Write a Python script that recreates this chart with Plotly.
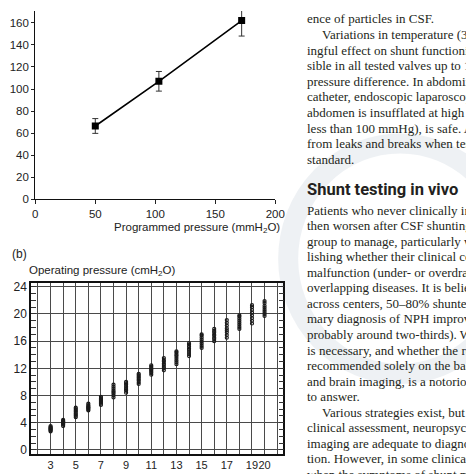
import plotly.graph_objects as go

W, H = 474, 474

# (a) programmed vs measured pressure, mean +/- sd
programmed = [50, 103, 172]
measured = [66.5, 107, 162]
measured_sd = [6.7, 8.9, 14]
a_xticks = [0, 50, 100, 150, 200]
a_yticks = [0, 20, 40, 60, 80, 100, 120, 140, 160]

# (b) operating pressure for each valve setting
settings = [3, 4, 5, 6, 7, 8, 9, 10, 11, 12, 13, 14, 15, 16, 17, 18, 19, 20]
readings = [
    [2.7, 2.85, 2.95, 3.05, 3.15, 3.25, 3.35, 3.5],
    [3.5, 3.7, 3.85, 3.95, 4.05, 4.15, 4.25, 4.4],
    [4.8, 5.0, 5.2, 5.4, 5.6, 5.8, 6.0, 6.2],
    [5.8, 5.95, 6.1, 6.2, 6.3, 6.45, 6.6, 6.8],
    [6.6, 6.8, 7.0, 7.15, 7.3, 7.45, 7.6, 7.8],
    [7.7, 8.0, 8.3, 8.5, 8.7, 9.0, 9.3, 9.6],
    [8.4, 8.7, 8.9, 9.1, 9.35, 9.6, 9.8, 10.0],
    [9.7, 9.95, 10.2, 10.4, 10.6, 10.8, 11.0, 11.2],
    [11.05, 11.3, 11.5, 11.7, 11.85, 12.05, 12.25, 12.45],
    [11.7, 12.0, 12.2, 12.5, 12.7, 13.0, 13.2, 13.5],
    [12.6, 12.9, 13.2, 13.5, 13.8, 14.0, 14.3, 14.5],
    [13.8, 14.1, 14.4, 14.7, 14.9, 15.2, 15.5, 15.7],
    [15.0, 15.3, 15.6, 15.9, 16.2, 16.5, 16.8, 17.0],
    [16.0, 16.3, 16.5, 16.8, 17.0, 17.3, 17.5, 17.8],
    [16.5, 16.9, 17.3, 17.6, 17.9, 18.3, 18.7, 19.1],
    [17.8, 18.1, 18.4, 18.7, 19.0, 19.3, 19.6, 19.8],
    [18.6, 19.0, 19.4, 19.8, 20.2, 20.6, 21.0, 21.3],
    [19.7, 20.0, 20.3, 20.6, 20.9, 21.2, 21.6, 21.9],
]
b_xticks = [3, 5, 7, 9, 11, 13, 15, 17, 19, 20]
b_yticks = [0, 4, 8, 12, 16, 20, 24]

# running text of the page, cropped at the right edge
para1 = [
    "ence of particles in CSF.",
    "Variations in temperature (30–40 °C)",
    "ingful effect on shunt functioning",
    "sible in all tested valves up to 10",
    "pressure difference. In abdominal",
    "catheter, endoscopic laparoscopic",
    "abdomen is insufflated at high pres",
    "less than 100 mmHg), is safe. Als",
    "from leaks and breaks when testi",
    "standard.",
]
heading = "Shunt testing in vivo"
para2 = [
    "Patients who never clinically impro",
    "then worsen after CSF shunting, a",
    "group to manage, particularly wh",
    "lishing whether their clinical cond",
    "malfunction (under- or overdrain",
    "overlapping diseases. It is believed",
    "across centers, 50–80% shunted p",
    "mary diagnosis of NPH improve af",
    "probably around two-thirds). Whe",
    "is necessary, and whether the repl",
    "recommended solely on the basis o",
    "and brain imaging, is a notorious",
    "to answer.",
    "Various strategies exist, but in",
    "clinical assessment, neuropsycho",
    "imaging are adequate to diagnose",
    "tion. However, in some clinical si",
    "when the symptoms of shunt malfu",
]
indented = {"Variations in temperature (30–40 °C)", "Various strategies exist, but in"}


def px_y(p):
    return 1 - p / H


def px_x(p):
    return p / W


fig = go.Figure()

fig.add_trace(go.Scatter(
    x=programmed, y=measured, mode="lines+markers",
    line=dict(color="black", width=1.6),
    marker=dict(symbol="square", size=7, color="black"),
    error_y=dict(type="data", array=measured_sd, color="#333", thickness=1, width=3),
    xaxis="x", yaxis="y", showlegend=False,
))

bx, by = [], []
for s, vals in zip(settings, readings):
    bx += [s] * len(vals)
    by += vals
fig.add_trace(go.Scatter(
    x=bx, y=by, mode="markers",
    marker=dict(symbol="circle-open", size=3, color="#1a1a1a", line=dict(width=1.2)),
    xaxis="x2", yaxis="y2", showlegend=False,
))

chart_font = dict(family="Liberation Sans, Arial, sans-serif", size=11.5, color="#222")
grid = "#4a4a4a"

fig.update_layout(
    width=W, height=H,
    margin=dict(l=0, r=0, t=0, b=0),
    paper_bgcolor="white", plot_bgcolor="rgba(0,0,0,0)",
    font=chart_font,
    xaxis=dict(domain=[px_x(25), px_x(271.7)], range=[0, 200], tickvals=a_xticks,
               ticks="outside", ticklen=4, tickcolor="#222", showline=True, linecolor="#111",
               linewidth=1.2, showgrid=False, zeroline=False, anchor="y", tickangle=0),
    yaxis=dict(domain=[px_y(192), 1], range=[0, 170.7], tickvals=a_yticks,
               ticks="outside", ticklen=3, tickcolor="#222", showline=True, linecolor="#111",
               linewidth=1.2, showgrid=False, zeroline=False, anchor="x"),
    yaxis3=dict(overlaying="y", side="right", range=[0, 170.7], showline=True,
                linecolor="#111", linewidth=1.2, showticklabels=False, ticks="",
                showgrid=False, zeroline=False, anchor="x"),
    xaxis2=dict(domain=[px_x(20.7), px_x(280)], range=[1.455, 21.49], tickvals=b_xticks,
                ticks="", showgrid=True, gridcolor=grid, gridwidth=1, tickangle=0,
                minor=dict(dtick=1, tick0=0, showgrid=True, gridcolor=grid, gridwidth=1),
                showline=True, mirror=True, linecolor="#111", linewidth=1.5,
                zeroline=False, anchor="y2", tickfont=dict(size=11)),
    yaxis2=dict(domain=[px_y(452), px_y(277)], range=[-0.68, 24.6], tickvals=b_yticks,
                ticks="inside", ticklen=5, tickcolor="#333", showgrid=True, gridcolor=grid,
                gridwidth=1,
                minor=dict(dtick=1, tick0=0, ticks="inside", ticklen=5, tickcolor="#333",
                           showgrid=False),
                showline=True, mirror="ticks", linecolor="#111", linewidth=1.5,
                zeroline=False, anchor="x2", tickfont=dict(size=12)),
)

ann = []
ann.append(dict(text="Programmed pressure (mmH<sub>2</sub>O)", x=px_x(279), y=px_y(221),
                xanchor="right", yanchor="middle", font=dict(size=11.5)))
ann.append(dict(text="(b)", x=px_x(-1), y=px_y(248), xanchor="left", yanchor="middle",
                font=dict(size=12)))
ann.append(dict(text="Operating pressure (cmH<sub>2</sub>O)", x=px_x(16), y=px_y(265),
                xanchor="left", yanchor="middle", font=dict(size=11.5)))

body_font = dict(family="Liberation Serif, Times New Roman, serif", size=13, color="#231f20")
for i, line in enumerate(para1):
    x0 = 318 if line in indented else 302
    ann.append(dict(text=line, x=px_x(x0), y=px_y(8 + i * 15.9), xanchor="left",
                    yanchor="middle", font=body_font))
ann.append(dict(text="<b>" + heading + "</b>", x=px_x(302), y=px_y(182), xanchor="left",
                yanchor="middle",
                font=dict(family="Roboto, Liberation Sans, sans-serif", size=16.5,
                          color="#231f20")))
for i, line in enumerate(para2):
    x0 = 318 if line in indented else 302
    ann.append(dict(text=line, x=px_x(x0), y=px_y(203 + i * 15.85), xanchor="left",
                    yanchor="middle", font=body_font))

for a in ann:
    a.update(xref="paper", yref="paper", showarrow=False)
fig.update_layout(annotations=ann)

# faint watermark ring behind the page
fig.add_shape(type="circle", xref="paper", yref="paper", layer="below",
              x0=px_x(285), x1=px_x(515), y0=px_y(370), y1=px_y(135),
              line=dict(color="rgba(205,214,224,0.35)", width=20))

fig.write_html("out.html")
